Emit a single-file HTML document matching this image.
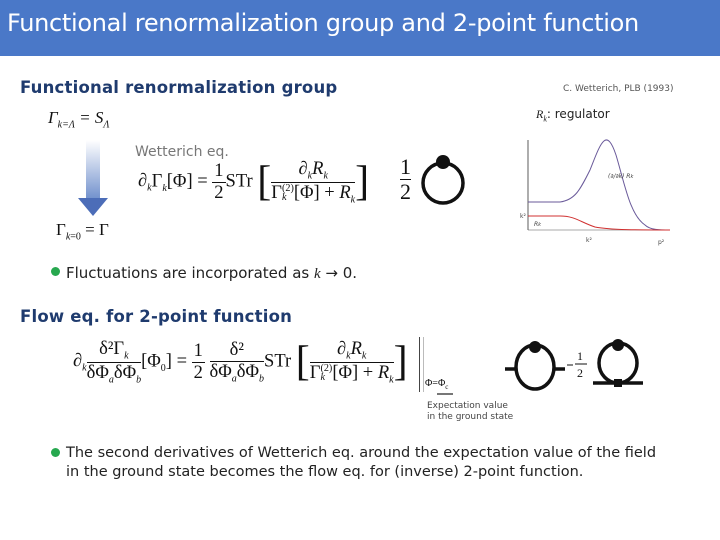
<!DOCTYPE html>
<html><head><meta charset="utf-8"><style>
body{margin:0;width:720px;height:540px;position:relative;background:#fff;overflow:hidden;font-family:"DejaVu Sans","Liberation Sans",sans-serif}
.a{position:absolute;white-space:nowrap}
.m{font-family:"Liberation Serif",serif;color:#111}
.fr{display:inline-block;vertical-align:middle;text-align:center}
.fr>span{display:block}
.fr .n{border-bottom:1px solid #111;padding:0 2px}
.ss{display:inline-block;vertical-align:middle;line-height:0.95;font-size:0.55em;text-align:left}
</style></head><body>
<div class="a" style="left:0;top:0;width:720px;height:56px;background:#4a78c8"></div>
<div class="a" style="left:7px;top:9px;font-size:24px;color:#fff;letter-spacing:-0.3px">Functional renormalization group and 2-point function</div>
<div class="a" style="left:20px;top:78px;font-size:16.5px;color:#1f3b6e;font-weight:bold;letter-spacing:0.2px">Functional renormalization group</div>
<div class="a" style="left:563px;top:84px;font-size:9px;color:#555">C. Wetterich, PLB (1993)</div>
<div class="a m" style="left:48px;top:108px;font-size:17px;font-style:italic">Γ<sub style="font-size:10px">k=Λ</sub> = S<sub style="font-size:10px">Λ</sub></div>
<div class="a" style="left:86px;top:140px;width:14px;height:60px;background:linear-gradient(#fff,#6f8fcc)"></div>
<div class="a" style="left:78px;top:198px;width:0;height:0;border-left:15px solid transparent;border-right:15px solid transparent;border-top:18px solid #4c6db8"></div>
<div class="a" style="left:135px;top:144px;font-size:14px;color:#777">Wetterich eq.</div>
<div class="a m" style="left:138px;top:158px;font-size:18.5px"><i>∂<sub style="font-size:10px">k</sub></i>Γ<sub style="font-size:10px"><i>k</i></sub>[Φ] = <span class="fr"><span class="n">1</span><span>2</span></span>STr <span style="font-size:42px;vertical-align:middle">[</span><span class="fr"><span class="n"><i>∂<sub style="font-size:10px">k</sub>R<sub style="font-size:10px">k</sub></i></span><span>Γ<span class="ss">(2)<br><i>k</i></span>[Φ] + <i>R<sub style="font-size:10px">k</sub></i></span></span><span style="font-size:42px;vertical-align:middle">]</span></div>
<div class="a m" style="left:56px;top:220px;font-size:17px">Γ<sub style="font-size:10px"><i>k</i>=0</sub> = Γ</div>
<div class="a m" style="left:400px;top:155px;font-size:22px;text-align:center;line-height:24px"><div style="border-bottom:1.5px solid #111">1</div>2</div>
<svg class="a" style="left:415px;top:150px" width="60" height="60"><circle cx="28" cy="33" r="20" fill="none" stroke="#111" stroke-width="3.5"/><circle cx="28" cy="12" r="7" fill="#111"/></svg>
<div class="a" style="left:536px;top:107px;font-size:12px;color:#222"><i style="font-family:'Liberation Serif',serif">R<sub style="font-size:8px">k</sub></i>: regulator</div>
<svg class="a" style="left:520px;top:130px" width="160" height="120">
<line x1="8" y1="10" x2="8" y2="100" stroke="#333" stroke-width="0.8"/>
<line x1="8" y1="100" x2="150" y2="100" stroke="#555" stroke-width="0.6"/>
<path d="M8 72 L40 72 C55 70 60 60 70 40 C80 15 86 -5 96 25 C105 55 110 85 125 95 C130 100 140 100 150 100" fill="none" stroke="#6a5a9a" stroke-width="1"/>
<path d="M8 86 L40 86 C55 86 60 92 75 97 C90 100 120 100 150 100" fill="none" stroke="#d03030" stroke-width="1"/>
<text x="88" y="48" font-size="6" fill="#444" font-style="italic">(∂/∂k) R<tspan font-size="5">k</tspan></text>
<text x="14" y="96" font-size="6" fill="#444" font-style="italic">R<tspan font-size="5">k</tspan></text>
<text x="0" y="88" font-size="6" fill="#444">k²</text>
<text x="66" y="112" font-size="6" fill="#444">k²</text>
<text x="138" y="114" font-size="6" fill="#444">p²</text>
</svg>
<div class="a" style="left:51px;top:267px;width:9px;height:9px;border-radius:50%;background:#27a84f"></div>
<div class="a" style="left:66px;top:264px;font-size:15px;color:#222">Fluctuations are incorporated as <i style="font-family:'Liberation Serif',serif">k</i> → 0.</div>
<div class="a" style="left:20px;top:307px;font-size:16.5px;color:#1f3b6e;font-weight:bold;letter-spacing:0.2px">Flow eq. for 2-point function</div>
<div class="a m" style="left:73px;top:338px;font-size:18.5px"><i>∂<sub style="font-size:10px">k</sub></i><span class="fr"><span class="n">δ²Γ<sub style="font-size:10px"><i>k</i></sub></span><span>δΦ<sub style="font-size:10px"><i>a</i></sub>δΦ<sub style="font-size:10px"><i>b</i></sub></span></span>[Φ<sub style="font-size:10px">0</sub>] = <span class="fr"><span class="n">1</span><span>2</span></span> <span class="fr"><span class="n">δ²</span><span>δΦ<sub style="font-size:10px"><i>a</i></sub>δΦ<sub style="font-size:10px"><i>b</i></sub></span></span>STr <span style="font-size:42px;vertical-align:middle">[</span><span class="fr"><span class="n"><i>∂<sub style="font-size:10px">k</sub>R<sub style="font-size:10px">k</sub></i></span><span>Γ<span class="ss">(2)<br><i>k</i></span>[Φ] + <i>R<sub style="font-size:10px">k</sub></i></span></span><span style="font-size:42px;vertical-align:middle">]</span></div>
<div class="a" style="left:419px;top:337px;width:1px;height:55px;background:#444"></div>
<div class="a" style="left:423px;top:337px;width:1px;height:55px;background:#bbb"></div>
<div class="a m" style="left:425px;top:378px;font-size:10px">Φ=Φ<sub style="font-size:7px">c</sub></div>
<div class="a" style="left:437px;top:393px;width:16px;height:2px;background:#777"></div>
<div class="a" style="left:427px;top:401px;font-size:9px;color:#444;line-height:11px">Expectation value<br>in the ground state</div>
<svg class="a" style="left:505px;top:335px" width="170" height="60">
<ellipse cx="30" cy="32" rx="19" ry="22" fill="none" stroke="#111" stroke-width="3.5"/>
<circle cx="30" cy="12" r="6" fill="#111"/>
<line x1="0" y1="34" x2="11" y2="34" stroke="#111" stroke-width="3.5"/>
<line x1="49" y1="34" x2="60" y2="34" stroke="#111" stroke-width="3.5"/>
<text x="72" y="25" font-size="12" font-family="Liberation Serif" fill="#111">1</text>
<line x1="70" y1="29" x2="82" y2="29" stroke="#111" stroke-width="1"/>
<text x="72" y="42" font-size="12" font-family="Liberation Serif" fill="#111">2</text>
<line x1="62" y1="30" x2="68" y2="30" stroke="#111" stroke-width="1"/>
<ellipse cx="113" cy="28" rx="19" ry="20" fill="none" stroke="#111" stroke-width="3.5"/>
<circle cx="113" cy="10" r="6" fill="#111"/>
<line x1="88" y1="48" x2="138" y2="48" stroke="#111" stroke-width="3.5"/>
<rect x="109" y="44" width="8" height="8" fill="#111"/>
</svg>
<div class="a" style="left:51px;top:448px;width:9px;height:9px;border-radius:50%;background:#27a84f"></div>
<div class="a" style="left:66px;top:444px;font-size:14.5px;color:#222;line-height:19px">The second derivatives of Wetterich eq. around the expectation value of the field<br>in the ground state becomes the flow eq. for (inverse) 2-point function.</div>
</body></html>
